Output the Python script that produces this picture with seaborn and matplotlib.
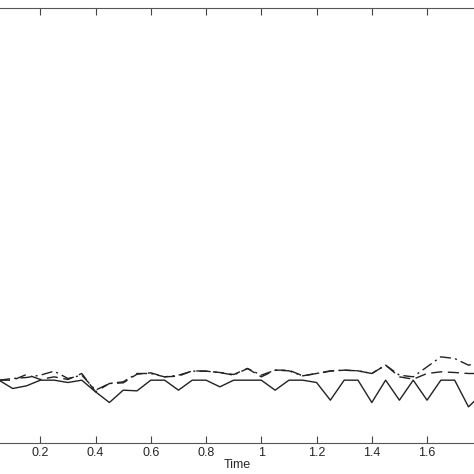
import matplotlib
matplotlib.use("Agg")
import matplotlib.pyplot as plt
import seaborn as sns
import numpy as np

sns.set_style("white")
plt.rcParams['font.family'] = ['Liberation Sans', 'DejaVu Sans']

time = [0.05, 0.1, 0.15, 0.2, 0.25, 0.3, 0.35, 0.4, 0.45, 0.5, 0.55, 0.6, 0.65, 0.7, 0.75,
        0.8, 0.85, 0.9, 0.95, 1.0, 1.05, 1.1, 1.15, 1.2, 1.25, 1.3, 1.35, 1.4, 1.45, 1.5,
        1.55, 1.6, 1.65, 1.7, 1.75, 1.8]
solid = [189, 164, 172, 189, 189, 182, 189, 154, 122, 159, 157, 189, 189, 159, 189,
         189, 169, 189, 189, 189, 159, 189, 189, 182, 129, 189, 189, 122, 189, 129,
         189, 129, 189, 189, 109, 149]
dashed = [189, 189, 206, 191, 199, 191, 209, 154, 179, 181, 207, 211, 199, 201, 217,
          216, 212, 206, 224, 199, 219, 219, 202, 209, 216, 219, 217, 209, 234, 199,
          192, 209, 214, 212, 209, 209]
dashdot = [189, 194, 197, 204, 216, 194, 204, 159, 179, 184, 209, 209, 199, 204, 216,
           216, 212, 204, 224, 204, 219, 217, 202, 209, 217, 219, 217, 209, 234, 204,
           199, 229, 259, 254, 234, 244]

fig = plt.figure(figsize=(4.74, 4.74), dpi=100)
ax = fig.add_axes([0.0, 0.065, 1.0, 0.918])
sns.lineplot(x=time, y=solid, ax=ax, color="#222222", lw=1.0)
sns.lineplot(x=time, y=dashed, ax=ax, color="#222222", lw=1.0, linestyle=(0, (8, 4)))
sns.lineplot(x=time, y=dashdot, ax=ax, color="#222222", lw=1.0, linestyle=(0, (8, 3, 1.5, 3)))

ax.set_xlim(0.054, 1.77)
ax.set_ylim(0, 1305)
ax.set_xticks([0.2, 0.4, 0.6, 0.8, 1, 1.2, 1.4, 1.6])
ax.set_xticklabels(["0.2", "0.4", "0.6", "0.8", "1", "1.2", "1.4", "1.6"])
ax.set_yticks([])
ax.tick_params(axis="x", direction="in", length=5, top=True, bottom=True, labelsize=9, pad=3, color="#444444")
for s in ["left", "right"]:
    ax.spines[s].set_visible(False)
for s in ["top", "bottom"]:
    ax.spines[s].set_color("#555555")
ax.set_xlabel("Time", fontsize=9, labelpad=0)
fig.savefig("out.png", dpi=100)
